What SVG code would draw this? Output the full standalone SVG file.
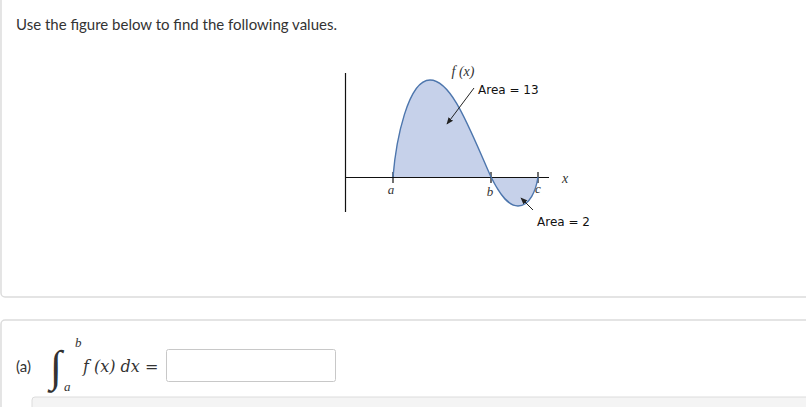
<svg xmlns="http://www.w3.org/2000/svg" width="806" height="407" viewBox="0 0 806 407">
<defs>
<style>
.panel{fill:#fff;stroke:#dcdcdc;stroke-width:1.5}
.ui{font-family:Lato,"Open Sans","Liberation Sans",sans-serif;fill:#333}
.m1{font-family:'Liberation Serif',serif;font-style:italic;fill:#333}
.m2{font-family:'DejaVu Serif',serif;font-style:italic;fill:#333}
.gl{font-family:'DejaVu Sans','Liberation Sans',sans-serif;fill:#111}
.ax{stroke:#111;stroke-width:1.2;fill:none}
.ptr{stroke:#222;stroke-width:1;fill:none;marker-end:url(#ah)}
</style>
<marker id="ah" viewBox="0 0 10 10" refX="9" refY="5" markerWidth="7" markerHeight="7" orient="auto" markerUnits="userSpaceOnUse">
<path d="M0,1 L10,5 L0,9 z" fill="#222"/>
</marker>
</defs>
<rect width="806" height="407" fill="#fff"/>
<rect class="panel" x="1" y="-10" width="820" height="307" rx="4"/>
<rect class="panel" x="1" y="320" width="820" height="100" rx="4"/>
<rect x="32" y="397" width="800" height="30" rx="3" fill="#f4f4f4" stroke="#dcdcdc" stroke-width="1"/>
<text class="ui" x="16" y="30" font-size="15">Use the figure below to find the following values.</text>
<g id="graph">
<path d="M393,177 C396,140 408,80 430,80 C452,80 470,130 491,177 Z" fill="#c6d1ea" stroke="none"/>
<path d="M491,177 C501,197 509,206 518,206 C530,206 536,190 538,177 Z" fill="#c6d1ea" stroke="none"/>
<g id="axes">
<line class="ax" x1="345.5" y1="73" x2="345.5" y2="212"/>
<line class="ax" x1="345" y1="177.5" x2="549" y2="177.5"/>
<line class="ax" x1="393" y1="172" x2="393" y2="183"/>
<line class="ax" x1="491" y1="172" x2="491" y2="183"/>
<line class="ax" x1="538" y1="172" x2="538" y2="183"/>
</g>
<path d="M393,177 C396,140 408,80 430,80 C452,80 470,130 491,177 C501,197 509,206 518,206 C530,206 536,190 538,177" fill="none" stroke="#4d76ad" stroke-width="1.4"/>
<text class="m1" x="463" y="76" font-size="14" text-anchor="middle">f (x)</text>
<text class="m1" x="565" y="183" font-size="14" text-anchor="middle">x</text>
<text class="m1" x="391" y="194" font-size="13" text-anchor="middle">a</text>
<text class="m1" x="490" y="196" font-size="13" text-anchor="middle">b</text>
<text class="m1" x="538" y="193" font-size="13" text-anchor="middle">c</text>
<text class="gl" x="478" y="94" font-size="12">Area = 13</text>
<text class="gl" x="537" y="226" font-size="12">Area = 2</text>
</g>
<g id="connectors">
<line class="ptr" x1="474" y1="88" x2="447" y2="124"/>
<line class="ptr" x1="533" y1="210" x2="521" y2="198"/>
</g>
<g id="question">
<text class="ui" x="16" y="372" font-size="15">(a)</text>
<text class="m1" x="50" y="381" font-size="44">∫</text>
<text class="m1" x="75" y="347" font-size="13">b</text>
<text class="m1" x="64" y="391" font-size="13">a</text>
<text class="m2" x="83" y="372" font-size="16">f (x) dx =</text>
<rect x="166.5" y="349.5" width="169" height="32" rx="2" fill="#fff" stroke="#c8c8c8"/>
</g>
</svg>
